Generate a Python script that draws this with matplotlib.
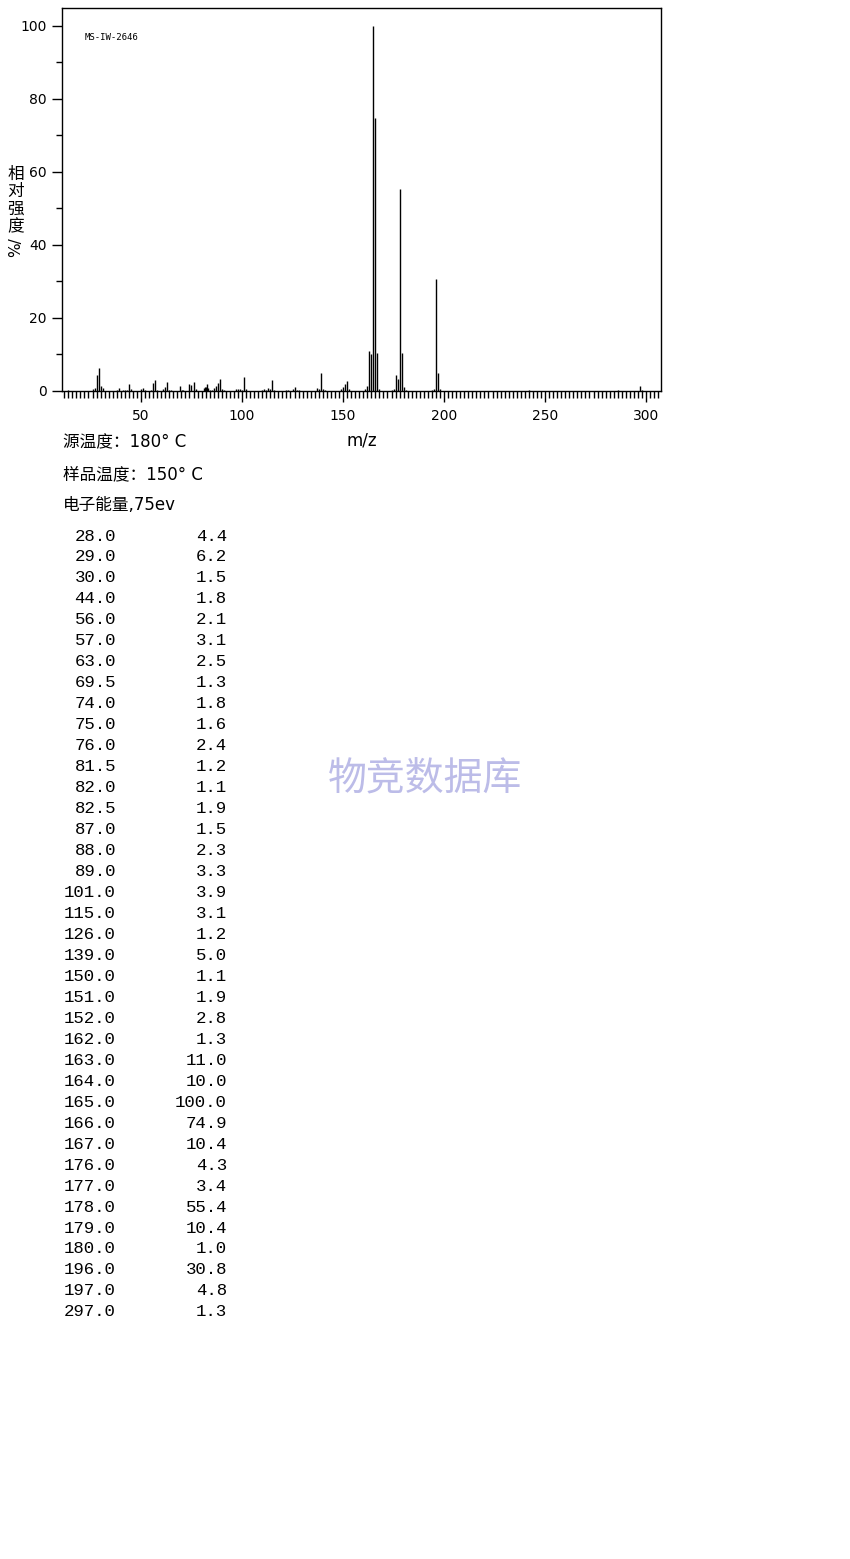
import numpy as np
import matplotlib.pyplot as plt
from matplotlib.ticker import MultipleLocator

plt.rcParams['font.family'] = ['DejaVu Sans', 'Noto Sans CJK SC']

# 质谱峰 (m/z, 相对强度)
mz = [14, 26, 27, 28, 29, 30, 31, 38, 39, 41, 42, 43, 44, 45, 50, 51, 52, 55, 56, 57, 58,
      61, 62, 63, 64, 65, 69.5, 70.5, 71, 74, 75, 76, 77, 81, 81.5, 82, 82.5, 83, 84, 85, 86,
      87, 88, 89, 90, 91, 97, 98, 99, 100, 101, 102, 110, 111, 112, 113, 114, 115, 116,
      122, 123, 125, 126, 127, 128, 137, 138, 139, 140, 141, 149, 150, 151, 152, 153,
      161, 162, 163, 164, 165, 166, 167, 168, 174, 175, 176, 177, 178, 179, 180, 181,
      194, 195, 196, 197, 198, 242, 286, 297, 298]
intensity = [0.3, 0.5, 0.9, 4.4, 6.2, 1.5, 0.8, 0.3, 0.7, 0.3, 0.3, 0.3, 1.8, 0.5, 0.5, 0.7, 0.3, 0.3, 2.1, 3.1, 0.3,
             0.5, 1.0, 2.5, 0.3, 0.3, 1.3, 0.3, 0.3, 1.8, 1.6, 2.4, 0.5, 0.7, 1.2, 1.1, 1.9, 0.7, 0.3, 0.3, 0.7,
             1.5, 2.3, 3.3, 0.5, 0.3, 0.5, 0.6, 0.6, 0.3, 3.9, 0.5, 0.3, 0.6, 0.3, 0.7, 0.5, 3.1, 0.3,
             0.3, 0.3, 0.5, 1.2, 0.3, 0.3, 0.7, 0.5, 5.0, 0.5, 0.3, 0.5, 1.1, 1.9, 2.8, 0.5,
             0.5, 1.3, 11.0, 10.0, 100.0, 74.9, 10.4, 0.6, 0.4, 0.6, 4.3, 3.4, 55.4, 10.4, 1.0, 0.3,
             0.3, 0.6, 30.8, 4.8, 0.5, 0.3, 0.3, 1.3, 0.4]

# 表格数据
table_mz = ['28.0', '29.0', '30.0', '44.0', '56.0', '57.0', '63.0', '69.5', '74.0', '75.0',
            '76.0', '81.5', '82.0', '82.5', '87.0', '88.0', '89.0', '101.0', '115.0', '126.0',
            '139.0', '150.0', '151.0', '152.0', '162.0', '163.0', '164.0', '165.0', '166.0',
            '167.0', '176.0', '177.0', '178.0', '179.0', '180.0', '196.0', '197.0', '297.0']
table_int = ['4.4', '6.2', '1.5', '1.8', '2.1', '3.1', '2.5', '1.3', '1.8', '1.6',
             '2.4', '1.2', '1.1', '1.9', '1.5', '2.3', '3.3', '3.9', '3.1', '1.2',
             '5.0', '1.1', '1.9', '2.8', '1.3', '11.0', '10.0', '100.0', '74.9',
             '10.4', '4.3', '3.4', '55.4', '10.4', '1.0', '30.8', '4.8', '1.3']

W, H = 850, 1559
fig = plt.figure(figsize=(W / 100, H / 100), dpi=100)
ax = fig.add_axes([62 / W, 1 - 391 / H, (661 - 62) / W, (391 - 8) / H])

ax.vlines(mz, 0, intensity, colors='black', linewidth=1)
ax.set_xlim(10.9, 307.4)
ax.set_ylim(0, 104.9)

ax.xaxis.set_major_locator(MultipleLocator(50))
ax.xaxis.set_minor_locator(MultipleLocator(2))
ax.yaxis.set_major_locator(MultipleLocator(20))
ax.yaxis.set_minor_locator(MultipleLocator(10))
ax.tick_params(which='major', length=7, width=1, labelsize=10, color='black', pad=4)
ax.tick_params(which='minor', length=4, width=1)
ax.tick_params(axis='x', which='minor', length=5)
ax.tick_params(axis='x', which='major', length=8, pad=5)
for s in ax.spines.values():
    s.set_linewidth(1)

ax.set_xlabel('m/z', fontsize=12, labelpad=6)
ax.text(0.037, 0.923, 'MS-IW-2646', transform=ax.transAxes, fontsize=6.5,
        family='DejaVu Sans Mono', va='center')

# 纵轴标签
fig.text(16 / W, 1 - 200 / H, '相\n对\n强\n度', fontsize=12, ha='center', va='center',
         linespacing=0.95)
fig.text(16 / W, 1 - 247 / H, '%/', fontsize=11, ha='center', va='center', rotation=90)

# 条件说明
fig.text(63 / W, 1 - 442 / H, '源温度：180° C', fontsize=12, va='center')
fig.text(63 / W, 1 - 474 / H, '样品温度：150° C', fontsize=12, va='center')
fig.text(63 / W, 1 - 505 / H, '电子能量,75ev', fontsize=12, va='center')

for i, (a, b) in enumerate(zip(table_mz, table_int)):
    y = 1 - (536 + i * 20.97) / H
    fig.text(116 / W, y, a, fontsize=12.5, family='Liberation Mono', ha='right', va='center')
    fig.text(227 / W, y, b, fontsize=12.5, family='Liberation Mono', ha='right', va='center')

# 水印
fig.text(425 / W, 1 - 780 / H, '物竞数据库', fontsize=28, color='#bcbce8', ha='center',
         va='center')

fig.savefig('out.png', dpi=100)
